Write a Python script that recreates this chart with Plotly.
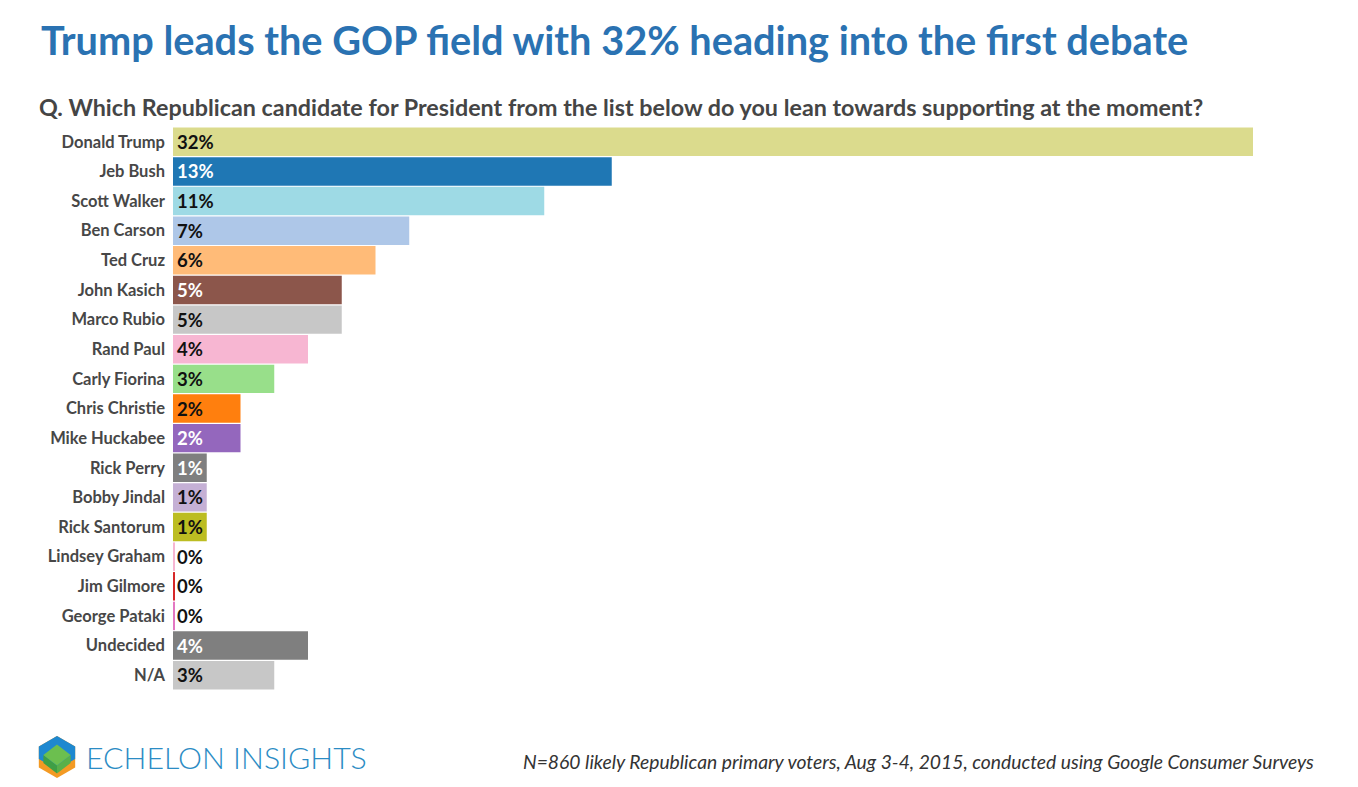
import plotly.graph_objects as go

W, H = 1358, 787

candidates = ["Donald Trump", "Jeb Bush", "Scott Walker", "Ben Carson", "Ted Cruz",
              "John Kasich", "Marco Rubio", "Rand Paul", "Carly Fiorina", "Chris Christie",
              "Mike Huckabee", "Rick Perry", "Bobby Jindal", "Rick Santorum",
              "Lindsey Graham", "Jim Gilmore", "George Pataki", "Undecided", "N/A"]
values = [32, 13, 11, 7, 6, 5, 5, 4, 3, 2, 2, 1, 1, 1, 0.06, 0.06, 0.06, 4, 3]
labels = ["32%", "13%", "11%", "7%", "6%", "5%", "5%", "4%", "3%", "2%", "2%", "1%",
          "1%", "1%", "0%", "0%", "0%", "4%", "3%"]
bar_colors = ["#dbdb8d", "#1f77b4", "#9edae5", "#aec7e8", "#ffbb78", "#8c564b", "#c7c7c7",
              "#f7b6d2", "#98df8a", "#ff7f0e", "#9467bd", "#7f7f7f", "#c5b0d5", "#bcbd22",
              "#f7b6d2", "#d62728", "#e377c2", "#7f7f7f", "#c7c7c7"]
label_colors = ["#111", "#fff", "#111", "#111", "#111", "#fff", "#111", "#111", "#111", "#111",
                "#fff", "#fff", "#111", "#111", "#111", "#111", "#111", "#fff", "#111"]

def px(x):
    return x / W

def py(y):
    return 1 - y / H

fig = go.Figure(go.Bar(
    x=values, y=candidates, orientation="h",
    marker=dict(color=bar_colors, line=dict(width=0)),
    hoverinfo="skip",
))

annotations = []
for c, lab, lc in zip(candidates, labels, label_colors):
    annotations.append(dict(
        x=0, y=c, xref="x", yref="y", text=lab, showarrow=False,
        xanchor="left", xshift=2, yshift=0,
        font=dict(family="Lato", size=18.5, color=lc, weight="bold"),
    ))

annotations += [
    dict(x=px(39), y=py(40), xref="paper", yref="paper", xanchor="left", yanchor="middle",
         text="Trump leads the GOP field with 32% heading into the first debate",
         showarrow=False, font=dict(family="Lato", size=39.7, color="#2a72b2", weight="bold")),
    dict(x=px(37), y=py(107), xref="paper", yref="paper", xanchor="left", yanchor="middle",
         text="Q. Which Republican candidate for President from the list below do you lean towards supporting at the moment?",
         showarrow=False, font=dict(family="Lato", size=23.3, color="#454545", weight="bold")),
    dict(x=px(84), y=py(757), xref="paper", yref="paper", xanchor="left", yanchor="middle",
         text="ECHELON INSIGHTS", showarrow=False,
         font=dict(family="Lato", size=30.3, color="#2b8cc4", weight=300)),
    dict(x=px(1316), y=py(761), xref="paper", yref="paper", xanchor="right", yanchor="middle",
         text="<i>N=860 likely Republican primary voters, Aug 3-4, 2015, conducted using Google Consumer Surveys</i>",
         showarrow=False, font=dict(family="Lato", size=19.3, color="#333")),
]

# logo (hexagonal cube)
cx, cy, r = 57, 757, 21
hx = r * 0.866
def pt(x, y):
    return f"{px(x)},{py(y)}"
hex_full = f"M {pt(cx, cy - r)} L {pt(cx + hx, cy - r/2)} L {pt(cx + hx, cy + r/2)} L {pt(cx, cy + r)} L {pt(cx - hx, cy + r/2)} L {pt(cx - hx, cy - r/2)} Z"
top_blue = f"M {pt(cx, cy - r)} L {pt(cx + hx, cy - r/2)} L {pt(cx + hx, cy + 2)} L {pt(cx, cy + r/2 + 2)} L {pt(cx - hx, cy + 2)} L {pt(cx - hx, cy - r/2)} Z"
green_top = f"M {pt(cx, cy - r/2 - 2)} L {pt(cx + hx*0.75, cy - 2)} L {pt(cx, cy + r/2 - 2)} L {pt(cx - hx*0.75, cy - 2)} Z"
green_l = f"M {pt(cx - hx*0.75, cy - 2)} L {pt(cx, cy + r/2 - 2)} L {pt(cx, cy + r/2 + 6)} L {pt(cx - hx*0.75, cy + 6)} Z"
green_r = f"M {pt(cx + hx*0.75, cy - 2)} L {pt(cx, cy + r/2 - 2)} L {pt(cx, cy + r/2 + 6)} L {pt(cx + hx*0.75, cy + 6)} Z"
shapes = [
    dict(type="path", path=hex_full, xref="paper", yref="paper", fillcolor="#f39a24", line=dict(width=0)),
    dict(type="path", path=top_blue, xref="paper", yref="paper", fillcolor="#1e88d0", line=dict(width=0)),
    dict(type="path", path=green_l, xref="paper", yref="paper", fillcolor="#3f9f45", line=dict(width=0)),
    dict(type="path", path=green_r, xref="paper", yref="paper", fillcolor="#58b04a", line=dict(width=0)),
    dict(type="path", path=green_top, xref="paper", yref="paper", fillcolor="#6cbf4f", line=dict(width=0)),
]

fig.update_layout(
    width=W, height=H,
    margin=dict(l=0, r=0, t=0, b=0),
    paper_bgcolor="white", plot_bgcolor="white",
    showlegend=False,
    bargap=0.04,
    annotations=annotations,
    shapes=shapes,
    xaxis=dict(domain=[px(173), px(1253)], range=[0, 32], showgrid=False, zeroline=False,
               showticklabels=False, showline=False, fixedrange=True),
    yaxis=dict(domain=[py(690), py(127)], autorange="reversed", showgrid=False,
               zeroline=False, showline=False, ticks="", ticklabelstandoff=7,
               tickfont=dict(family="Lato", size=16.5, color="#474747", weight="bold"),
               automargin=False, fixedrange=True),
)

fig.write_html("out.html")
